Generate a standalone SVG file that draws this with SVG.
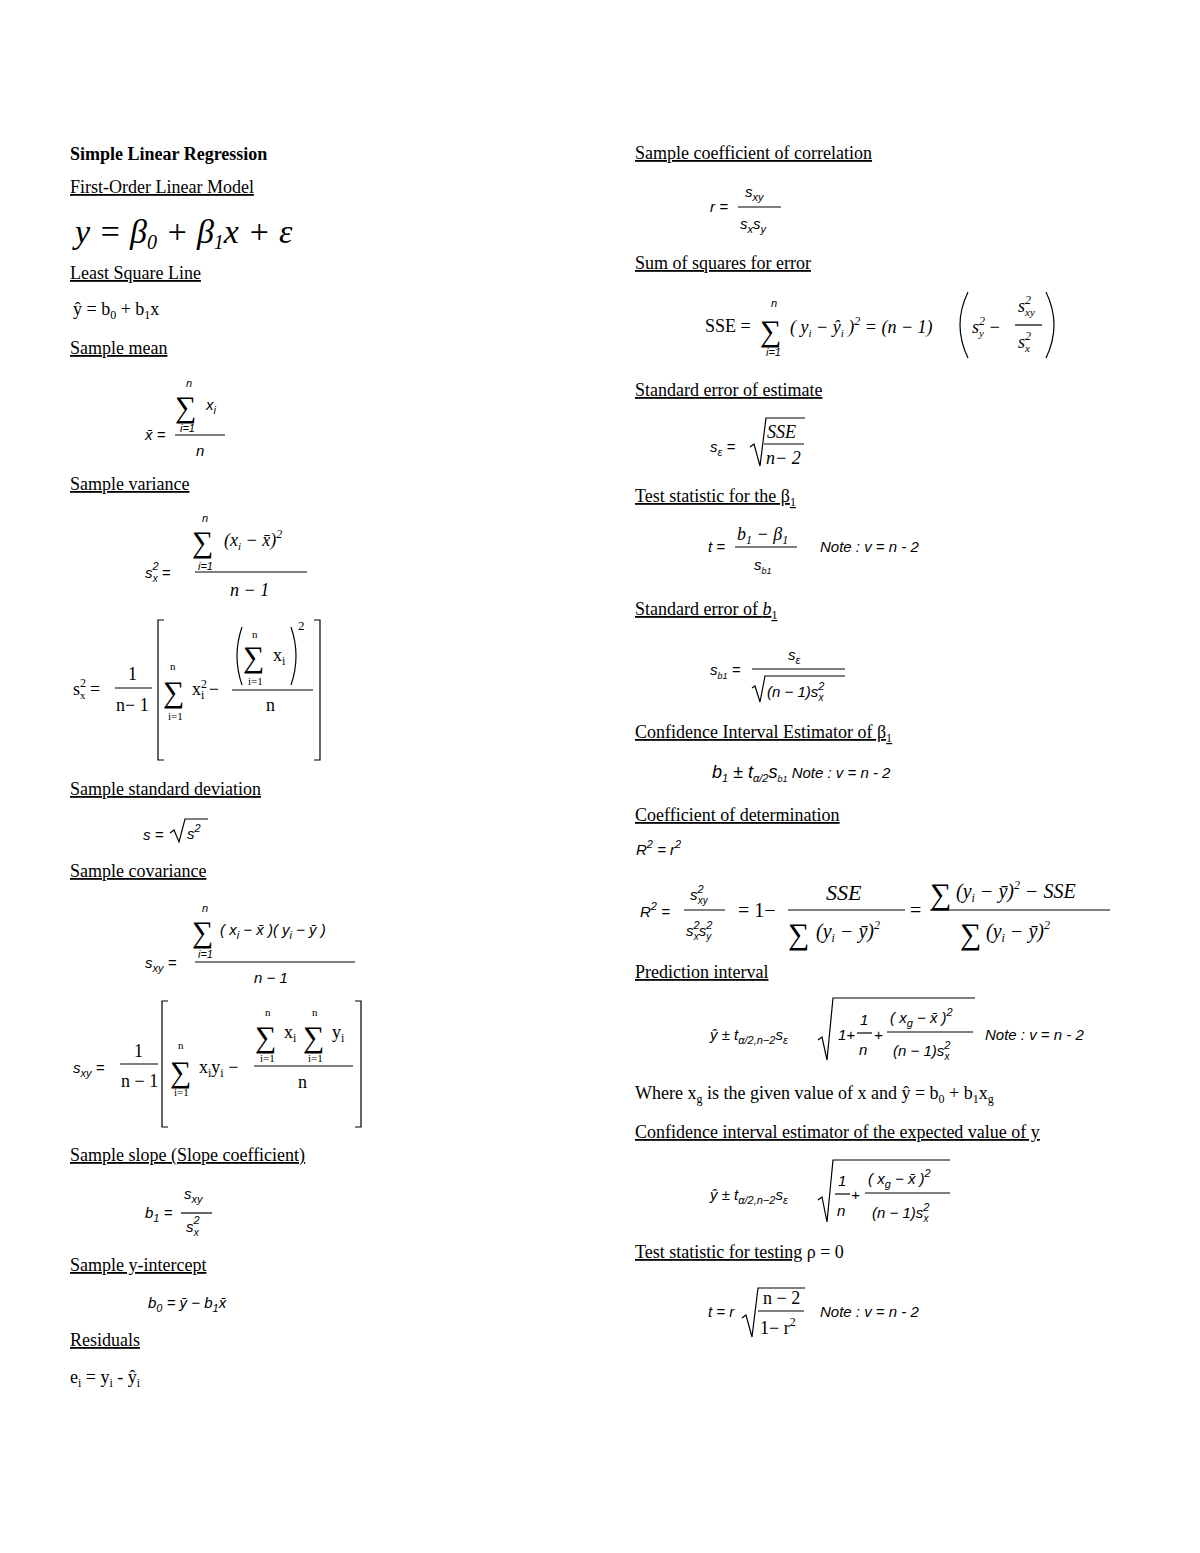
<svg xmlns="http://www.w3.org/2000/svg" width="1200" height="1553" viewBox="0 0 1200 1553" font-family="Liberation Serif, serif" font-size="18">
<style>
text{fill:#000}
.h{text-decoration:underline}
.b{font-weight:bold}
.m{font-family:"Liberation Sans",sans-serif;font-style:italic;font-size:15px}
.i{font-style:italic}
.s{font-size:11px}
.big{font-size:30px}
line,path{stroke:#000;stroke-width:1.2;fill:none}
</style>
<rect width="1200" height="1553" fill="#fff"/>
<!-- LEFT -->
<text x="70" y="160" class="b">Simple Linear Regression</text>
<text x="70" y="193" class="h">First-Order Linear Model</text>
<text x="75" y="243" class="i" font-size="34">y = β<tspan font-size="20" dy="6">0</tspan><tspan dy="-6"> + β</tspan><tspan font-size="20" dy="6">1</tspan><tspan dy="-6">x + ε</tspan></text>
<text x="70" y="279" class="h">Least Square Line</text>
<text x="73" y="315">ŷ = b<tspan font-size="12" dy="4">0</tspan><tspan dy="-4"> + b</tspan><tspan font-size="12" dy="4">1</tspan><tspan dy="-4">x</tspan></text>
<text x="70" y="354" class="h">Sample mean</text>
<text x="186" y="387" class="m s">n</text>
<text x="175" y="417" class="big">∑</text>
<text x="206" y="410" class="m">x<tspan class="s" dy="4">i</tspan></text>
<text x="180" y="432" class="m s">i=1</text>
<text x="145" y="440" class="m">x̄ =</text>
<line x1="175" y1="435" x2="225" y2="435"/>
<text x="196" y="456" class="m">n</text>

<text x="70" y="490" class="h">Sample variance</text>
<text x="202" y="522" class="m s">n</text>
<text x="192" y="552" class="big">∑</text>
<text x="224" y="546" class="i">(x<tspan font-size="11" dy="4">i</tspan><tspan dy="-4"> − x̄)</tspan><tspan font-size="12" dy="-8">2</tspan></text>
<text x="198" y="570" class="m s">i=1</text>
<text x="145" y="578" class="m">s<tspan font-size="11" dy="-8">2</tspan><tspan font-size="10" dx="-6" dy="12">x</tspan><tspan dy="-4"> =</tspan></text>
<line x1="195" y1="572" x2="307" y2="572"/>
<text x="230" y="596" class="i">n − 1</text>

<text x="73" y="695">s<tspan font-size="12" dy="-8">2</tspan><tspan font-size="11" dx="-6" dy="12">x</tspan><tspan dy="-4"> =</tspan></text>
<text x="128" y="680">1</text>
<line x1="115" y1="688" x2="152" y2="688"/>
<text x="116" y="711">n− 1</text>
<path d="M164 620 H158 V760 H164"/>
<path d="M314 620 H320 V760 H314"/>
<text x="170" y="670" class="s">n</text>
<text x="163" y="702" class="big">∑</text>
<text x="192" y="695">x<tspan font-size="12" dy="-7">2</tspan><tspan font-size="12" dx="-6" dy="11">i</tspan><tspan dy="-4"> −</tspan></text>
<text x="168" y="720" class="s">i=1</text>
<text x="252" y="638" class="s">n</text>
<text x="243" y="667" class="big">∑</text>
<text x="273" y="661">x<tspan font-size="12" dy="4">i</tspan></text>
<text x="248" y="685" class="s">i=1</text>
<path d="M242 627 Q232 656 242 685"/>
<path d="M291 627 Q301 656 291 685"/>
<text x="298" y="630" font-size="13">2</text>
<line x1="232" y1="690" x2="313" y2="690"/>
<text x="266" y="711">n</text>

<text x="70" y="795" class="h">Sample standard deviation </text>
<text x="143" y="840" class="m">s =</text>
<path d="M170 833 L174 830 L179 842 L185 819 H208"/>
<text x="187" y="839" class="m">s<tspan font-size="11" dy="-7">2</tspan></text>

<text x="70" y="877" class="h">Sample covariance</text>
<text x="202" y="912" class="m s">n</text>
<text x="192" y="942" class="big">∑</text>
<text x="220" y="935" class="m">( x<tspan class="s" dy="4">i</tspan><tspan dy="-4"> − x̄ )( y</tspan><tspan class="s" dy="4">i</tspan><tspan dy="-4"> − ȳ )</tspan></text>
<text x="198" y="958" class="m s">i=1</text>
<text x="145" y="968" class="m">s<tspan class="s" dy="4">xy</tspan><tspan dy="-4"> =</tspan></text>
<line x1="195" y1="962" x2="355" y2="962"/>
<text x="254" y="983" class="m">n − 1</text>

<text x="73" y="1073" class="m">s<tspan class="s" dy="4">xy</tspan><tspan dy="-4"> =</tspan></text>
<text x="134" y="1057">1</text>
<line x1="120" y1="1064" x2="158" y2="1064"/>
<text x="121" y="1087">n − 1</text>
<path d="M168 1001 H162 V1127 H168"/>
<path d="M355 1001 H361 V1127 H355"/>
<text x="178" y="1049" class="s">n</text>
<text x="170" y="1082" class="big">∑</text>
<text x="199" y="1073">x<tspan font-size="12" dy="4">i</tspan><tspan dy="-4">y</tspan><tspan font-size="12" dy="4">i</tspan><tspan dy="-4"> −</tspan></text>
<text x="174" y="1096" class="s">i=1</text>
<text x="265" y="1016" class="s">n</text>
<text x="255" y="1047" class="big">∑</text>
<text x="284" y="1038">x<tspan font-size="12" dy="4">i</tspan></text>
<text x="260" y="1062" class="s">i=1</text>
<text x="312" y="1016" class="s">n</text>
<text x="303" y="1047" class="big">∑</text>
<text x="332" y="1038">y<tspan font-size="12" dy="4">i</tspan></text>
<text x="308" y="1062" class="s">i=1</text>
<line x1="254" y1="1066" x2="353" y2="1066"/>
<text x="298" y="1088">n</text>

<text x="70" y="1161" class="h">Sample slope (Slope coefficient)</text>
<text x="145" y="1218" class="m">b<tspan class="s" dy="4">1</tspan><tspan dy="-4"> =</tspan></text>
<text x="184" y="1199" class="m">s<tspan class="s" dy="4">xy</tspan></text>
<line x1="181" y1="1213" x2="212" y2="1213"/>
<text x="186" y="1232" class="m">s<tspan font-size="11" dy="-8">2</tspan><tspan font-size="10" dx="-6" dy="12">x</tspan></text>

<text x="70" y="1271" class="h">Sample y-intercept</text>
<text x="148" y="1308" class="m">b<tspan class="s" dy="4">0</tspan><tspan dy="-4"> = ȳ − b</tspan><tspan class="s" dy="4">1</tspan><tspan dy="-4">x̄</tspan></text>
<text x="70" y="1346" class="h">Residuals</text>
<text x="70" y="1383">e<tspan font-size="12" dy="4">i</tspan><tspan dy="-4"> = y</tspan><tspan font-size="12" dy="4">i</tspan><tspan dy="-4"> - ŷ</tspan><tspan font-size="12" dy="4">i</tspan></text>

<!-- RIGHT -->
<text x="635" y="159" class="h">Sample coefficient of correlation</text>
<text x="710" y="212" class="m">r =</text>
<text x="745" y="197" class="m">s<tspan class="s" dy="4">xy</tspan></text>
<line x1="738" y1="207" x2="781" y2="207"/>
<text x="740" y="229" class="m">s<tspan class="s" dy="4">x</tspan><tspan dy="-4">s</tspan><tspan class="s" dy="4">y</tspan></text>

<text x="635" y="269" class="h">Sum of squares for error</text>
<text x="771" y="307" class="m s">n</text>
<text x="760" y="341" class="big">∑</text>
<text x="766" y="356" class="m s">i=1</text>
<text x="705" y="332">SSE =</text>
<text x="790" y="333" class="i">( y<tspan font-size="11" dy="4">i</tspan><tspan dy="-4"> − ŷ</tspan><tspan font-size="11" dy="4">i</tspan><tspan dy="-4"> )</tspan><tspan font-size="12" dy="-8">2</tspan><tspan dy="8"> = (n − 1)</tspan></text>
<path d="M968 292 Q952 325 968 358"/>
<path d="M1046 292 Q1062 325 1046 358"/>
<text x="972" y="333" class="i">s<tspan font-size="12" dy="-8">2</tspan><tspan font-size="11" dx="-6" dy="12">y</tspan><tspan dy="-4"> −</tspan></text>
<text x="1018" y="312" class="i">s<tspan font-size="12" dy="-8">2</tspan><tspan font-size="11" dx="-6" dy="12">xy</tspan></text>
<line x1="1015" y1="325" x2="1042" y2="325"/>
<text x="1018" y="348" class="i">s<tspan font-size="12" dy="-8">2</tspan><tspan font-size="11" dx="-6" dy="12">x</tspan></text>

<text x="635" y="396" class="h">Standard error of estimate</text>
<text x="710" y="452" class="m">s<tspan class="s" dy="4">ε</tspan><tspan dy="-4"> =</tspan></text>
<path d="M750 447 L754 444 L760 466 L766 418 H805"/>
<text x="767" y="438" class="i">SSE</text>
<line x1="764" y1="444" x2="804" y2="444"/>
<text x="766" y="464" class="i">n− 2</text>

<text x="635" y="502" class="h">Test statistic for the β<tspan font-size="12" dy="4">1</tspan></text>
<text x="708" y="552" class="m">t =</text>
<text x="737" y="540" class="i">b<tspan font-size="12" dy="4">1</tspan><tspan dy="-4"> − β</tspan><tspan font-size="12" dy="4">1</tspan></text>
<line x1="735" y1="547" x2="797" y2="547"/>
<text x="754" y="570" class="m">s<tspan font-size="9" dy="4">b1</tspan></text>
<text x="820" y="552" class="m">Note : v = n - 2</text>

<text x="635" y="615" class="h">Standard error of  <tspan class="i">b</tspan><tspan font-size="12" dy="4">1</tspan></text>
<text x="788" y="660" class="m">s<tspan class="s" dy="4">ε</tspan></text>
<text x="710" y="675" class="m">s<tspan font-size="9" dy="4">b1</tspan><tspan dy="-4"> =</tspan></text>
<line x1="752" y1="669" x2="845" y2="669"/>
<path d="M752 688 L755 686 L760 702 L765 676 H845"/>
<text x="767" y="697" class="m">(n − 1)s<tspan font-size="11" dy="-7">2</tspan><tspan font-size="10" dx="-6" dy="11">x</tspan></text>

<text x="635" y="738" class="h">Confidence Interval Estimator of β<tspan font-size="12" dy="4">1</tspan></text>
<text x="712" y="778" class="m"><tspan font-size="18">b</tspan><tspan class="s" dy="4">1</tspan><tspan dy="-4" font-size="18"> ± t</tspan><tspan class="s" dy="4">α/2</tspan><tspan dy="-4" font-size="18">s</tspan><tspan font-size="9" dy="4">b1</tspan><tspan dy="-4">  Note : v = n - 2</tspan></text>

<text x="635" y="821" class="h">Coefficient of determination</text>
<text x="636" y="855" class="m">R<tspan font-size="11" dy="-7">2</tspan><tspan dy="7"> = r</tspan><tspan font-size="11" dy="-7">2</tspan></text>
<text x="640" y="917" class="m">R<tspan font-size="11" dy="-7">2</tspan><tspan dy="7"> =</tspan></text>
<text x="690" y="900" class="m">s<tspan font-size="11" dy="-7">2</tspan><tspan font-size="10" dx="-6" dy="11">xy</tspan></text>
<line x1="684" y1="910" x2="725" y2="910"/>
<text x="686" y="936" class="m">s<tspan font-size="11" dy="-7">2</tspan><tspan font-size="10" dx="-6" dy="11">x</tspan><tspan dy="-4">s</tspan><tspan font-size="11" dy="-7">2</tspan><tspan font-size="10" dx="-6" dy="11">y</tspan></text>
<text x="738" y="917" font-size="20">= 1−</text>
<text x="826" y="900" class="i" font-size="22">SSE</text>
<line x1="788" y1="910" x2="905" y2="910"/>
<text x="788" y="944" font-size="30">∑</text>
<text x="816" y="938" class="i" font-size="20">(y<tspan font-size="12" dy="4">i</tspan><tspan dy="-4"> − ȳ)</tspan><tspan font-size="12" dy="-9">2</tspan></text>
<text x="910" y="917" font-size="20">=</text>
<text x="930" y="904" font-size="30">∑</text>
<text x="956" y="898" class="i" font-size="20">(y<tspan font-size="12" dy="4">i</tspan><tspan dy="-4"> − ȳ)</tspan><tspan font-size="12" dy="-9">2</tspan><tspan dy="9"> − SSE</tspan></text>
<line x1="930" y1="910" x2="1110" y2="910"/>
<text x="960" y="944" font-size="30">∑</text>
<text x="986" y="938" class="i" font-size="20">(y<tspan font-size="12" dy="4">i</tspan><tspan dy="-4"> − ȳ)</tspan><tspan font-size="12" dy="-9">2</tspan></text>

<text x="635" y="978" class="h">Prediction interval</text>
<text x="710" y="1040" class="m">ŷ ± t<tspan class="s" dy="4">α/2,n−2</tspan><tspan dy="-4">s</tspan><tspan class="s" dy="4">ε</tspan></text>
<path d="M818 1040 L822 1037 L827 1060 L833 998 H975"/>
<text x="838" y="1040" class="m">1+</text>
<text x="860" y="1025" class="m">1</text>
<line x1="857" y1="1033" x2="872" y2="1033"/>
<text x="859" y="1055" class="m">n</text>
<text x="874" y="1040" class="m">+</text>
<text x="890" y="1023" class="m">( x<tspan class="s" dy="4">g</tspan><tspan dy="-4"> − x̄ )</tspan><tspan font-size="11" dy="-7">2</tspan></text>
<line x1="887" y1="1032" x2="973" y2="1032"/>
<text x="893" y="1056" class="m">(n − 1)s<tspan font-size="11" dy="-7">2</tspan><tspan font-size="10" dx="-6" dy="11">x</tspan></text>
<text x="985" y="1040" class="m">Note : v = n - 2</text>

<text x="635" y="1099">Where x<tspan font-size="12" dy="4">g</tspan><tspan dy="-4"> is the given value of x and  ŷ = b</tspan><tspan font-size="12" dy="4">0</tspan><tspan dy="-4"> + b</tspan><tspan font-size="12" dy="4">1</tspan><tspan dy="-4">x</tspan><tspan font-size="12" dy="4">g</tspan></text>
<text x="635" y="1138" class="h">Confidence interval estimator of the expected value of y</text>
<text x="710" y="1200" class="m">ŷ ± t<tspan class="s" dy="4">α/2,n−2</tspan><tspan dy="-4">s</tspan><tspan class="s" dy="4">ε</tspan></text>
<path d="M818 1200 L822 1197 L827 1222 L833 1160 H950"/>
<text x="838" y="1186" class="m">1</text>
<line x1="835" y1="1194" x2="850" y2="1194"/>
<text x="837" y="1216" class="m">n</text>
<text x="851" y="1200" class="m">+</text>
<text x="868" y="1184" class="m">( x<tspan class="s" dy="4">g</tspan><tspan dy="-4"> − x̄ )</tspan><tspan font-size="11" dy="-7">2</tspan></text>
<line x1="865" y1="1193" x2="950" y2="1193"/>
<text x="872" y="1218" class="m">(n − 1)s<tspan font-size="11" dy="-7">2</tspan><tspan font-size="10" dx="-6" dy="11">x</tspan></text>

<text x="635" y="1258"><tspan class="h">Test statistic for testing</tspan>  ρ = 0</text>
<text x="708" y="1317" class="m">t = r</text>
<path d="M742 1318 L746 1315 L752 1337 L758 1288 H805"/>
<text x="763" y="1304">n − 2</text>
<line x1="758" y1="1311" x2="804" y2="1311"/>
<text x="760" y="1334">1− r<tspan font-size="12" dy="-8">2</tspan></text>
<text x="820" y="1317" class="m">Note : v = n - 2</text>
</svg>
